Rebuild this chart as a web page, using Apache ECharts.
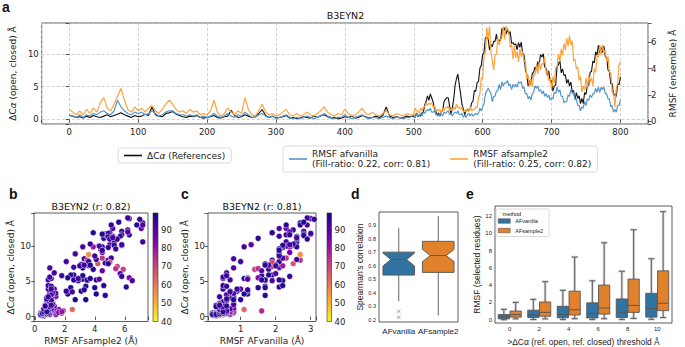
<!DOCTYPE html>
<html>
<head>
<meta charset="utf-8">
<script src="https://cdn.jsdelivr.net/npm/echarts@6/dist/echarts.min.js"></script>
<style>html,body{margin:0;padding:0;background:#fff}#fig{width:685px;height:347px}</style>
</head>
<body>
<div id="fig"></div>
<script>
// B3EYN2 per-residue profiles
// coarse part: residues 0..495 every 5, fine part: residues 500..800 every 2
const coarseStep = 5, fineStart = 500, fineStep = 2;

const dCaCoarse = [
  0.6,0.5,0.3,0.4,0.2,0.5,0.3,0.6,0.4,0.3, 0.5,0.7,0.4,0.6,0.8,1.0,0.7,0.5,0.3,0.6,
  0.4,0.5,0.8,0.6,1.9,0.7,0.5,0.4,0.9,1.0, 1.2,0.8,0.6,0.4,0.3,0.5,0.4,0.6,0.3,0.2,
  0.3,0.4,0.6,0.3,0.2,0.4,0.5,1.4,0.6,0.3, 0.4,0.7,0.5,0.3,0.4,0.9,1.5,0.6,0.3,0.5,
  0.2,0.3,0.4,0.6,0.2,0.3,0.1,0.2,0.4,0.3, 0.2,0.5,0.3,0.6,0.7,0.4,0.2,0.3,0.1,0.2,
  0.4,0.3,0.5,0.2,0.3,0.6,0.4,0.2,0.3,0.5, 0.3,0.6,1.9,0.5,0.3,0.4,0.2,0.3,0.5,0.4
];
const dCaFine = [
  0.5,0.3,1.0,0.4,0.7,0.5,1.0,1.1,2.2,2.8, 3.6,2.9,3.9,3.3,2.7,1.7,1.3,0.6,1.0,0.5,
  1.1,1.4,2.7,3.1,3.3,3.3,2.1,0.8,1.8,3.1, 5.2,6.2,6.9,5.4,3.9,2.3,1.6,0.7,1.4,1.4,
  1.5,1.6,2.5,2.8,4.4,4.3,5.6,5.8,7.8,8.2, 9.9,10.2,12.5,12.5,12.3,10.6,11.4,11.1,11.9,11.9,
  13.0,11.6,12.1,12.0,13.9,13.3,14.0,13.0,13.8,13.0, 13.4,11.6,11.7,11.4,11.5,10.6,11.7,11.0,11.8,10.1,
  9.9,7.6,6.9,5.1,5.9,5.3,7.0,7.2,8.0,7.5, 8.8,8.3,9.9,9.5,10.0,8.0,7.8,6.7,7.4,5.8,
  5.9,4.3,5.1,5.2,8.1,8.3,9.1,7.1,7.7,6.7, 6.8,5.5,6.1,5.1,5.7,4.2,4.4,3.0,4.1,3.2,
  3.6,2.4,3.2,2.4,4.1,3.8,5.2,5.2,7.2,7.3, 8.9,8.6,10.3,9.8,11.3,10.1,11.0,10.2,11.2,9.6,
  9.4,7.5,7.3,5.4,5.5,3.6,3.9,3.5,5.4,5.3, 6.5
];
const vanillaCoarse = [
  0.5,0.4,0.3,0.5,0.3,0.5,0.4,0.6,0.5,0.7, 0.8,0.6,0.5,0.8,1.6,1.1,0.8,0.6,0.5,0.7,
  0.6,0.7,0.5,0.6,0.8,0.6,0.4,0.5,0.7,0.8, 0.8,0.6,0.5,0.5,0.4,0.5,0.4,0.5,0.3,0.4,
  0.3,0.4,0.6,0.4,0.3,0.4,0.6,0.4,0.3,0.5, 0.4,0.7,0.5,0.3,0.3,0.5,0.6,0.4,0.3,0.4,
  0.2,0.3,0.4,0.5,0.3,0.2,0.3,0.2,0.3,0.4, 0.3,0.2,0.3,0.4,0.6,0.4,0.3,0.2,0.3,0.3,
  0.5,0.3,0.2,0.3,0.4,0.5,0.3,0.2,0.3,0.3, 0.2,0.3,0.4,0.3,0.2,0.3,0.3,0.2,0.3,0.3
];
const vanillaFine = [
  0.5,0.3,0.6,0.4,0.4,0.6,0.4,0.7,0.6,0.8, 0.9,0.8,1.0,0.7,0.7,0.8,0.5,0.6,0.4,0.5,
  0.6,0.4,0.7,0.6,0.7,0.8,0.5,0.6,0.4,0.6, 0.7,0.6,0.8,0.5,0.5,0.6,0.3,0.5,0.3,0.5,
  0.6,0.4,0.6,0.4,0.5,0.6,0.5,0.6,1.0,0.8, 1.1,1.3,2.1,2.3,2.5,2.3,2.1,1.5,1.9,1.9,
  2.3,2.3,2.8,2.4,3.0,2.7,2.9,2.9,3.1,2.7, 2.8,2.4,2.8,2.6,2.8,2.6,3.0,2.9,3.0,2.5,
  2.6,2.1,2.1,1.7,1.9,1.6,2.1,2.2,2.7,2.5, 2.7,2.3,2.4,2.1,2.3,1.9,2.1,1.8,2.0,1.6,
  1.8,1.7,2.2,2.1,2.6,2.2,2.4,1.9,1.9,1.4, 1.5,1.5,2.0,1.9,2.4,2.1,2.2,1.7,1.7,1.2,
  1.2,0.8,1.1,1.0,1.5,1.2,1.7,1.6,2.0,1.8, 2.1,2.1,2.5,2.2,2.6,2.2,2.6,2.4,2.6,2.1,
  2.1,1.7,1.7,1.1,1.2,0.7,0.9,0.7,1.2,1.2, 1.6
];
const sample2Coarse = [
  0.9,0.7,0.5,0.8,0.5,0.9,0.6,1.0,0.7,1.4, 1.8,1.0,0.8,1.3,1.9,2.5,1.6,0.9,0.7,1.1,
  0.8,1.0,0.7,1.0,1.2,0.8,0.6,0.9,1.3,1.6, 1.3,0.9,0.7,0.8,0.6,0.9,0.7,0.8,0.5,0.6,
  0.5,0.8,1.6,0.7,0.4,0.6,1.0,0.7,0.5,0.8, 0.6,1.8,0.9,0.5,0.4,0.8,1.3,0.7,0.5,0.6,
  0.4,0.5,0.7,0.9,0.5,0.4,0.6,0.4,0.5,0.7, 0.5,0.4,0.6,0.8,1.1,0.7,0.5,0.4,0.6,0.5,
  0.9,0.6,0.4,0.5,0.7,1.0,0.6,0.5,0.7,0.5, 0.4,0.6,0.8,0.5,0.4,0.6,0.5,0.4,0.6,0.5
];
const sample2Fine = [
  0.5,1.0,0.8,0.8,0.6,1.0,0.8,1.1,1.1,1.4, 1.2,1.4,1.3,1.4,1.1,1.2,0.8,0.9,0.8,0.9,
  0.6,1.0,0.8,1.1,1.0,1.2,0.8,0.9,0.8,1.1, 0.9,1.3,1.0,1.1,0.9,1.1,0.7,0.8,0.7,1.0,
  0.7,1.1,0.8,0.9,0.9,1.1,1.0,1.8,2.1,3.3, 3.2,5.0,5.2,7.1,6.2,7.2,5.2,4.6,3.9,5.0,
  5.1,6.3,5.8,6.2,6.3,7.2,6.2,7.2,7.0,6.8, 5.6,5.8,4.7,5.7,4.8,5.3,4.5,5.5,4.9,5.3,
  4.5,4.7,3.2,3.5,2.6,3.2,2.6,3.6,3.5,4.2, 3.6,4.5,3.9,4.4,4.3,4.9,3.6,3.9,3.1,3.2,
  2.4,3.4,2.9,4.1,4.1,5.1,4.5,5.5,5.0,5.9, 5.4,6.3,5.7,6.5,5.8,6.1,4.6,4.7,4.0,4.1,
  3.1,3.4,2.2,2.7,2.4,3.3,2.6,3.5,3.0,3.3, 2.7,4.0,3.7,4.9,4.9,5.8,5.0,5.8,5.2,5.4,
  4.5,4.9,3.7,3.7,2.2,2.1,1.1,2.5,2.9,4.3, 4.5
];
const plddtCoarse = [
  72,80,84,86,88,87,89,90,88,86, 78,88,90,85,76,63,82,90,92,91,
  93,92,94,93,90,94,95,94,91,86, 88,92,94,93,95,94,95,94,96,95,
  96,95,86,94,96,95,92,93,95,94, 95,80,92,96,96,93,89,94,96,95,
  97,96,95,93,96,97,96,97,96,95, 96,97,96,94,91,95,96,97,96,96,
  93,95,97,96,95,92,95,96,95,96, 97,96,94,96,97,96,96,97,96,96
];
const plddtFine = [
  95,94,93,94,95,94,93,92,91,90, 90,89,89,90,91,92,93,94,94,95,
  95,94,93,92,92,92,93,94,93,92, 93,92,91,92,93,94,95,95,94,94,
  95,94,95,94,95,94,93,94,93,92, 93,90,91,89,92,93,94,95,96,95,
  95,94,93,92,94,95,93,92,94,95, 96,95,96,94,96,95,96,95,94,96,
  95,96,95,96,97,96,92,79,74,66, 56,72,80,86,92,94,95,96,95,96,
  96,97,96,95,94,93,87,72,68,71, 74,84,90,92,94,95,96,95,96,97,
  96,97,97,96,96,95,96,95,94,93, 93,94,95,95,96,96,95,94,93,94,
  95,95,96,96,96,95,94,93,92,90, 88
];

const residues = dCaCoarse.map((_, i) => i * coarseStep)
  .concat(dCaFine.map((_, i) => fineStart + i * fineStep));
const dCaRef = dCaCoarse.concat(dCaFine);
const rmsfVanilla = vanillaCoarse.concat(vanillaFine);
const rmsfSample2 = sample2Coarse.concat(sample2Fine);
const plddt = plddtCoarse.concat(plddtFine);

// legend annotations of panel a
const rmsfNames = ['RMSF afvanilla', 'RMSF afsample2'];
const fillRatio = [0.22, 0.25];
const corrRef = [0.81, 0.82];

// panel d: Spearman's correlation per method
const methods = ['AFvanilla', 'AFsample2'];
const spearLo = [0.337, 0.232];
const spearQ1 = [0.53, 0.55];
const spearMed = [0.645, 0.675];
const spearQ3 = [0.70, 0.78];
const spearHi = [0.88, 0.967];
const spearNotchLo = [0.597, 0.63];
const spearNotchHi = [0.693, 0.72];
const spearOutliers = [[0, 0.262], [0, 0.217]];

// panel e: RMSF of residues above a dCa threshold
const thresholds = ['0', '2', '4', '6', '8', '10'];
const vanLo = [0.0, 0.02, 0.02, 0.02, 0.02, 0.05];
const vanQ1 = [0.1, 0.25, 0.22, 0.2, 0.25, 0.3];
const vanMed = [0.35, 0.55, 0.6, 0.7, 0.85, 1.3];
const vanQ3 = [0.6, 1.1, 1.55, 1.95, 2.4, 3.05];
const vanHi = [1.2, 2.35, 3.4, 4.5, 5.6, 7.05];
const smpLo = [0.1, 0.1, 0.12, 0.12, 0.15, 0.25];
const smpQ1 = [0.3, 0.4, 0.55, 0.65, 0.85, 1.05];
const smpMed = [0.6, 0.85, 1.15, 1.35, 1.65, 1.9];
const smpQ3 = [1.0, 2.05, 3.3, 4.0, 4.7, 5.65];
const smpHi = [2.0, 4.4, 7.25, 8.9, 10.4, 12.5];

const plasma = ['#0d0887','#41049d','#6a00a8','#8f0da4','#b12a90','#cc4778','#e16462','#f2844b','#fca636','#fcce25','#f0f921'];
const blue = '#3274a1', orange = '#e1812c';
const fontA = 'DejaVu Sans', fontB = 'Liberation Sans';

const chart = echarts.init(document.getElementById('fig'), null, { renderer: 'svg' });

function stepLabel(step, digits) {
  return v => Math.abs(v / step - Math.round(v / step)) < 1e-6 ? v.toFixed(digits) : '';
}

function valueAxis(grid, min, max, step, digits, font, size, extra) {
  return Object.assign({
    type: 'value', gridIndex: grid, min: min, max: max,
    minInterval: step, maxInterval: step,
    axisLine: { show: false },
    axisTick: { length: 3.5, lineStyle: { color: '#333', width: 0.8 } },
    axisLabel: { fontSize: size, fontFamily: font, color: '#222', margin: 3, formatter: stepLabel(step, digits) },
    splitLine: { show: false }
  }, extra || {});
}

const dashed = { show: true, lineStyle: { color: '#c4c4c4', width: 0.8, type: [3, 2] } };
const dcaName = '{n|ΔC}{i|α}{n| (open, closed) Å}';
const dcaRich = { n: { fontSize: 9, fontFamily: fontA, color: '#222' }, i: { fontSize: 9, fontFamily: fontA, fontStyle: 'italic', color: '#222' } };

function colorbarItem(params, api) {
  const lo = api.coord([0, api.value(1)]);
  const hi = api.coord([0, api.value(2)]);
  const w = api.size([1, 0])[0];
  return {
    type: 'rect',
    shape: { x: lo[0] - w / 2, y: hi[1], width: w, height: lo[1] - hi[1] },
    style: {
      fill: new echarts.graphic.LinearGradient(0, 0, 0, 1, plasma.map((c, k) => ({ offset: k / (plasma.length - 1), color: c }))),
      stroke: '#333', lineWidth: 0.6
    }
  };
}

function notchBox(params, api) {
  const i = api.value(0);
  const cx = api.coord([i, 0])[0];
  const half = api.size([1, 0])[0] * 0.4;
  const ins = half * 0.5;
  const y = k => api.coord([i, api.value(k)])[1];
  const lo = y(1), q1 = y(2), md = y(3), q3 = y(4), hi = y(5), nl = y(6), nh = y(7);
  const ink = { stroke: '#555', lineWidth: 0.9 };
  const x0 = cx - half, x1 = cx + half;
  return {
    type: 'group', children: [
      { type: 'line', shape: { x1: cx, y1: q3, x2: cx, y2: hi }, style: ink },
      { type: 'line', shape: { x1: cx, y1: q1, x2: cx, y2: lo }, style: ink },
      { type: 'polygon', shape: { points: [[x0, q3], [x1, q3], [x1, nh], [x1 - ins, md], [x1, nl], [x1, q1], [x0, q1], [x0, nl], [x0 + ins, md], [x0, nh]] },
        style: { fill: i === 0 ? blue : orange, stroke: '#555', lineWidth: 0.9 } },
      { type: 'line', shape: { x1: x0 + ins, y1: md, x2: x1 - ins, y2: md }, style: ink }
    ]
  };
}

function groupedBox(side, fill) {
  return function (params, api) {
    const i = api.value(0);
    const band = api.size([1, 0])[0];
    const cx = api.coord([i, 0])[0] + side * band * 0.2;
    const half = band * 0.19, cap = half * 0.55;
    const y = k => api.coord([i, api.value(k)])[1];
    const lo = y(1), q1 = y(2), md = y(3), q3 = y(4), hi = y(5);
    const halo = { stroke: '#d2d2d2', lineWidth: 2.6 };
    const ink = { stroke: '#555', lineWidth: 0.9 };
    const seg = (x1, y1, x2, y2, s) => ({ type: 'line', shape: { x1: x1, y1: y1, x2: x2, y2: y2 }, style: s });
    const parts = [];
    [halo, ink].forEach(s => {
      parts.push(seg(cx, q3, cx, hi, s), seg(cx, q1, cx, lo, s),
        seg(cx - cap, hi, cx + cap, hi, s), seg(cx - cap, lo, cx + cap, lo, s));
    });
    parts.push({ type: 'rect', shape: { x: cx - half, y: q3, width: 2 * half, height: q1 - q3 }, style: { fill: fill, stroke: '#555', lineWidth: 0.9 } });
    parts.push(seg(cx - half, md, cx + half, md, ink));
    return { type: 'group', children: parts };
  };
}

const txt = (x, y, text, size, extra) => ({
  type: 'text', x: x, y: y, silent: true,
  style: Object.assign({ text: text, fontSize: size, fontFamily: fontA, fill: '#111', textAlign: 'center', textVerticalAlign: 'middle' }, extra || {})
});
const letter = { fontWeight: 'bold', fontFamily: fontB, textAlign: 'left', textVerticalAlign: 'top' };

option = {
  animation: false,
  backgroundColor: '#fff',
  graphic: [
    txt(2, 0, 'a', 14, letter),
    txt(9, 187, 'b', 14, letter),
    txt(181, 187, 'c', 14, letter),
    txt(351, 187, 'd', 14, letter),
    txt(466, 187, 'e', 14, letter),
    txt(345.5, 15, 'B3EYN2', 9.5),
    txt(91, 206, 'B3EYN2 (r: 0.82)', 9.5),
    txt(262, 206, 'B3EYN2 (r: 0.81)', 9.5),
    txt(512, 214, 'method', 5.5, { fontFamily: fontB })
  ],
  grid: [
    { left: 40, top: 23, width: 611, height: 101, show: true, borderColor: '#333', borderWidth: 0.8 },
    { left: 34, top: 213, width: 114, height: 108.5, show: true, borderColor: '#333', borderWidth: 0.8 },
    { left: 153, top: 213, width: 5, height: 108.5 },
    { left: 208, top: 213, width: 108, height: 108.5, show: true, borderColor: '#333', borderWidth: 0.8 },
    { left: 327, top: 213, width: 4.5, height: 108.5 },
    { left: 379, top: 212, width: 79, height: 110, show: true, borderColor: '#333', borderWidth: 0.8 },
    { left: 495, top: 206, width: 177, height: 117, show: true, borderColor: '#333', borderWidth: 0.8 }
  ],
  xAxis: [
    valueAxis(0, -40, 840, 100, 0, fontA, 8.5, { splitLine: dashed }),
    valueAxis(1, -0.05, 7.55, 2, 0, fontA, 8.5, {
      name: 'RMSF AFsample2 (Å)', nameLocation: 'middle', nameGap: 15,
      nameTextStyle: { fontSize: 9, fontFamily: fontA, color: '#222' }
    }),
    { type: 'category', gridIndex: 2, data: ['cb'], show: false },
    valueAxis(3, 0.07, 3.15, 1, 0, fontA, 8.5, {
      name: 'RMSF AFvanilla (Å)', nameLocation: 'middle', nameGap: 15,
      nameTextStyle: { fontSize: 9, fontFamily: fontA, color: '#222' }
    }),
    { type: 'category', gridIndex: 4, data: ['cb'], show: false },
    {
      type: 'category', gridIndex: 5, data: methods,
      axisLine: { show: false },
      axisTick: { alignWithLabel: true, length: 3, lineStyle: { color: '#333', width: 0.8 } },
      axisLabel: { interval: 0, fontSize: 8, fontFamily: fontB, color: '#222', margin: 5 }
    },
    {
      type: 'category', gridIndex: 6, data: thresholds,
      axisLine: { show: false },
      axisTick: { alignWithLabel: true, length: 2.5, lineStyle: { color: '#333', width: 0.8 } },
      axisLabel: { interval: 0, fontSize: 6, fontFamily: fontB, color: '#222', margin: 3 },
      name: '>ΔCα (ref. open, ref. closed) threshold Å', nameLocation: 'middle', nameGap: 14,
      nameTextStyle: { fontSize: 8.5, fontFamily: fontB, color: '#222' }
    }
  ],
  yAxis: [
    valueAxis(0, -0.7, 14.7, 5, 0, fontA, 8.5, {
      splitLine: dashed, name: dcaName, nameLocation: 'middle', nameGap: 22, nameRotate: 90,
      nameTextStyle: { rich: dcaRich }
    }),
    valueAxis(0, -0.2, 7.45, 2, 0, fontA, 8.5, {
      position: 'right', name: 'RMSF (ensemble) Å', nameLocation: 'middle', nameGap: 20, nameRotate: 90,
      nameTextStyle: { fontSize: 9, fontFamily: fontA, color: '#222' }
    }),
    valueAxis(1, -0.7, 14.7, 5, 0, fontA, 8.5, {
      name: dcaName, nameLocation: 'middle', nameGap: 19, nameRotate: 90, nameTextStyle: { rich: dcaRich }
    }),
    valueAxis(2, 40, 99, 10, 0, fontA, 8.5, { position: 'right' }),
    valueAxis(3, -0.7, 14.7, 5, 0, fontA, 8.5, {
      name: dcaName, nameLocation: 'middle', nameGap: 19, nameRotate: 90, nameTextStyle: { rich: dcaRich }
    }),
    valueAxis(4, 40, 99, 10, 0, fontA, 8.5, { position: 'right' }),
    valueAxis(5, 0.183, 0.997, 0.1, 1, fontB, 5.5, {
      axisTick: { length: 2, lineStyle: { color: '#333', width: 0.7 } },
      name: "Spearman's correlation", nameLocation: 'middle', nameGap: 13, nameRotate: 90,
      nameTextStyle: { fontSize: 8.5, fontFamily: fontB, color: '#222' }
    }),
    valueAxis(6, -0.38, 13.15, 2, 0, fontB, 6, {
      axisTick: { length: 2.5, lineStyle: { color: '#333', width: 0.7 } },
      name: 'RMSF (selected residues)', nameLocation: 'middle', nameGap: 12, nameRotate: 90,
      nameTextStyle: { fontSize: 8.5, fontFamily: fontB, color: '#222' }
    })
  ],
  legend: [
    {
      data: ['ΔCα (References)'], left: 118, top: 148, padding: [3, 6, 3, 6],
      icon: 'rect', itemWidth: 18, itemHeight: 1.6, itemGap: 10,
      borderColor: '#d0d0d0', borderWidth: 0.8, borderRadius: 3,
      formatter: () => '{n|ΔC}{i|α}{n| (References)}',
      textStyle: { rich: dcaRich }
    },
    {
      data: rmsfNames, left: 283, top: 146, padding: [2, 6, 2, 6],
      icon: 'rect', itemWidth: 18, itemHeight: 1.6, itemGap: 20,
      borderColor: '#d0d0d0', borderWidth: 0.8, borderRadius: 3,
      formatter: name => {
        const k = rmsfNames.indexOf(name);
        return name + '\n(Fill-ratio: ' + fillRatio[k].toFixed(2) + ', corr: ' + corrRef[k].toFixed(2) + ')';
      },
      textStyle: { fontSize: 9, fontFamily: fontA, color: '#222', lineHeight: 11 }
    },
    {
      data: methods, left: 496, top: 209, orient: 'vertical', padding: [9, 6, 3, 2],
      icon: 'rect', itemWidth: 12, itemHeight: 4.5, itemGap: 3.5,
      borderColor: '#d0d0d0', borderWidth: 0.8, borderRadius: 2,
      itemStyle: { borderColor: '#444', borderWidth: 0.5 },
      textStyle: { fontSize: 5.5, fontFamily: fontB, color: '#222' }
    }
  ],
  visualMap: {
    type: 'continuous', show: false, seriesIndex: [3, 5], dimension: 2, min: 40, max: 99,
    inRange: { color: plasma.slice().reverse() }
  },
  series: [
    {
      name: 'ΔCα (References)', type: 'line', xAxisIndex: 0, yAxisIndex: 0, symbol: 'none',
      data: residues.map((r, i) => [r, dCaRef[i]]),
      itemStyle: { color: '#111' }, lineStyle: { color: '#111', width: 1.1 }
    },
    {
      name: rmsfNames[0], type: 'line', xAxisIndex: 0, yAxisIndex: 1, symbol: 'none',
      data: residues.map((r, i) => [r, rmsfVanilla[i]]),
      itemStyle: { color: '#5497c9' }, lineStyle: { color: '#5497c9', width: 1.2 }
    },
    {
      name: rmsfNames[1], type: 'line', xAxisIndex: 0, yAxisIndex: 1, symbol: 'none',
      data: residues.map((r, i) => [r, rmsfSample2[i]]),
      itemStyle: { color: '#ffa23c' }, lineStyle: { color: '#ffa23c', width: 1.2 }
    },
    {
      type: 'scatter', xAxisIndex: 1, yAxisIndex: 2, symbolSize: 6,
      data: residues.map((r, i) => [rmsfSample2[i], dCaRef[i], plddt[i]]),
      itemStyle: { borderColor: '#fff', borderWidth: 0.5, opacity: 1 }
    },
    {
      type: 'custom', xAxisIndex: 2, yAxisIndex: 3, data: [[0, 40, 99]],
      encode: { x: 0, y: [1, 2] }, renderItem: colorbarItem, silent: true
    },
    {
      type: 'scatter', xAxisIndex: 3, yAxisIndex: 4, symbolSize: 6,
      data: residues.map((r, i) => [rmsfVanilla[i], dCaRef[i], plddt[i]]),
      itemStyle: { borderColor: '#fff', borderWidth: 0.5, opacity: 1 }
    },
    {
      type: 'custom', xAxisIndex: 4, yAxisIndex: 5, data: [[0, 40, 99]],
      encode: { x: 0, y: [1, 2] }, renderItem: colorbarItem, silent: true
    },
    {
      type: 'custom', xAxisIndex: 5, yAxisIndex: 6,
      data: methods.map((m, i) => [i, spearLo[i], spearQ1[i], spearMed[i], spearQ3[i], spearHi[i], spearNotchLo[i], spearNotchHi[i]]),
      encode: { x: 0, y: [1, 2, 3, 4, 5] }, renderItem: notchBox
    },
    {
      type: 'scatter', xAxisIndex: 5, yAxisIndex: 6, data: spearOutliers,
      symbol: 'path://M0 0L10 10M10 0L0 10', symbolSize: 3.5,
      itemStyle: { color: 'rgba(0,0,0,0)', borderColor: '#666', borderWidth: 0.7 }
    },
    {
      name: 'AFvanilla', type: 'custom', xAxisIndex: 6, yAxisIndex: 7,
      itemStyle: { color: blue },
      data: thresholds.map((t, i) => [i, vanLo[i], vanQ1[i], vanMed[i], vanQ3[i], vanHi[i]]),
      encode: { x: 0, y: [1, 2, 3, 4, 5] }, renderItem: groupedBox(-1, blue)
    },
    {
      name: 'AFsample2', type: 'custom', xAxisIndex: 6, yAxisIndex: 7,
      itemStyle: { color: orange },
      data: thresholds.map((t, i) => [i, smpLo[i], smpQ1[i], smpMed[i], smpQ3[i], smpHi[i]]),
      encode: { x: 0, y: [1, 2, 3, 4, 5] }, renderItem: groupedBox(1, orange)
    }
  ]
};

option && chart.setOption(option);
</script>
</body>
</html>
